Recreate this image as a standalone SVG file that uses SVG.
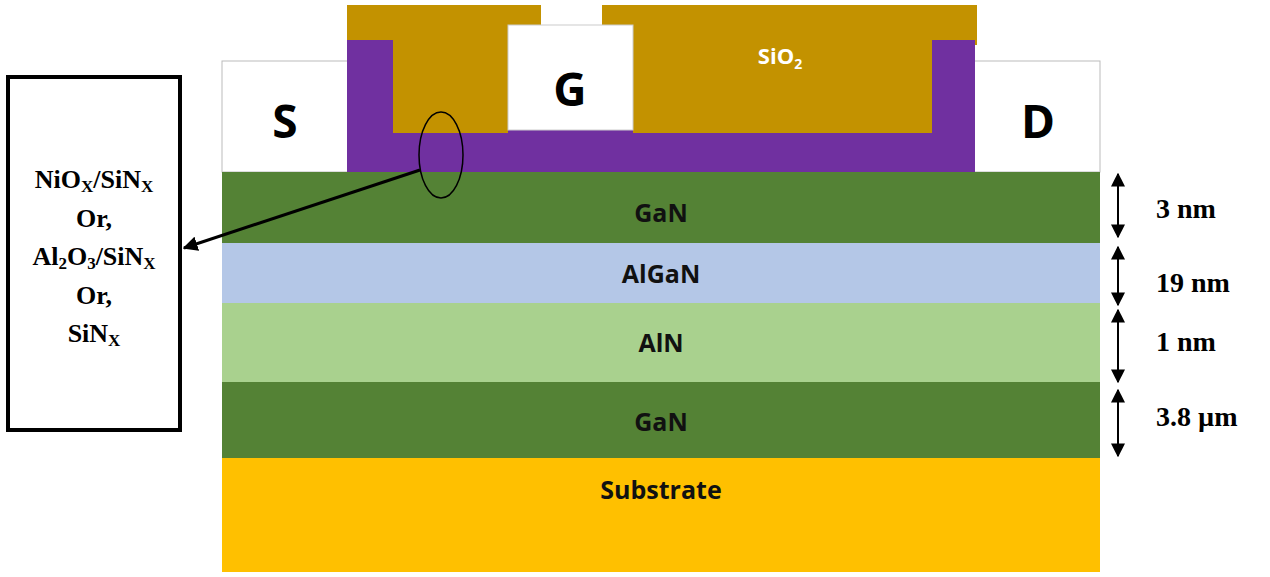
<svg xmlns="http://www.w3.org/2000/svg" width="1270" height="577" viewBox="0 0 1270 577">
<defs>
<marker id="ah" viewBox="0 0 10 10" refX="9" refY="5" markerWidth="5" markerHeight="5" orient="auto-start-reverse"><path d="M0,0 L10,5 L0,10 z" fill="#000"/></marker>
<marker id="ah2" viewBox="0 0 10 10" refX="9" refY="5" markerWidth="7" markerHeight="7" orient="auto-start-reverse"><path d="M0,0 L10,5 L0,10 z" fill="#000"/></marker>
</defs>
<style>
.lay{font-family:"Open Sans","DejaVu Sans",sans-serif;font-weight:bold;font-size:25px;text-anchor:middle;fill:#111}
.big{font-family:"Open Sans","DejaVu Sans",sans-serif;font-weight:bold;font-size:46px;text-anchor:middle;fill:#000}
.tm{font-family:"Liberation Serif",serif;font-weight:bold;font-size:26px;text-anchor:middle;fill:#000}
.dim{font-family:"Liberation Serif",serif;font-weight:bold;font-size:28px;fill:#000}
</style>
<rect width="1270" height="577" fill="#fff"/>
<g id="layers">
<rect x="222" y="61" width="878" height="111" fill="#fff" stroke="#bbb"/>
<rect x="222" y="172" width="878" height="71" fill="#548235"/>
<rect x="222" y="243" width="878" height="60" fill="#B4C7E7"/>
<rect x="222" y="303" width="878" height="79" fill="#A9D18E"/>
<rect x="222" y="382" width="878" height="76" fill="#548235"/>
<rect x="222" y="458" width="878" height="114" fill="#FFC000"/>
<text class="lay" x="661" y="222">GaN</text>
<text class="lay" x="661" y="283">AlGaN</text>
<text class="lay" x="661" y="352">AlN</text>
<text class="lay" x="661" y="431">GaN</text>
<text class="lay" x="661" y="499">Substrate</text>
</g>
<g id="gate-stack">
<rect x="347" y="5" width="194" height="40" fill="#C39200"/>
<rect x="602" y="5" width="375" height="40" fill="#C39200"/>
<rect x="347" y="40" width="628" height="132" fill="#7030A0"/>
<rect x="393" y="40" width="115" height="93" fill="#C39200"/>
<rect x="633" y="25" width="299" height="108" fill="#C39200"/>
<rect x="508" y="25" width="125" height="105" fill="#fff" stroke="#ccc"/>
<text class="big" x="570" y="106">G</text>
<text x="780" y="64" font-family="Open Sans, DejaVu Sans, sans-serif" font-weight="bold" font-size="22" fill="#fff" text-anchor="middle">SiO<tspan font-size="14" dy="5">2</tspan></text>
</g>
<g id="S"><text class="big" x="285" y="138">S</text></g>
<g id="D"><text class="big" x="1038" y="138">D</text></g>
<g id="note">
<rect x="8" y="77" width="172" height="353" fill="#fff" stroke="#000" stroke-width="4"/>
<text class="tm" x="94" y="188">NiO<tspan font-size="17" dy="4">X</tspan><tspan dy="-4">/SiN</tspan><tspan font-size="17" dy="4">X</tspan></text>
<text class="tm" x="94" y="227">Or,</text>
<text class="tm" x="94" y="265">Al<tspan font-size="17" dy="4">2</tspan><tspan dy="-4">O</tspan><tspan font-size="17" dy="4">3</tspan><tspan dy="-4">/SiN</tspan><tspan font-size="17" dy="4">X</tspan></text>
<text class="tm" x="94" y="304">Or,</text>
<text class="tm" x="94" y="342">SiN<tspan font-size="17" dy="4">X</tspan></text>
</g>
<g id="connectors">
<ellipse cx="441" cy="155" rx="22" ry="43" fill="none" stroke="#000" stroke-width="1.5"/>
<line x1="420" y1="170" x2="184" y2="248" stroke="#000" stroke-width="3" marker-end="url(#ah)"/>
<line x1="1118" y1="174" x2="1118" y2="237" stroke="#000" stroke-width="2" marker-start="url(#ah2)" marker-end="url(#ah2)"/>
<line x1="1118" y1="247" x2="1118" y2="305" stroke="#000" stroke-width="2" marker-start="url(#ah2)" marker-end="url(#ah2)"/>
<line x1="1118" y1="310" x2="1118" y2="382" stroke="#000" stroke-width="2" marker-start="url(#ah2)" marker-end="url(#ah2)"/>
<line x1="1118" y1="390" x2="1118" y2="456" stroke="#000" stroke-width="2" marker-start="url(#ah2)" marker-end="url(#ah2)"/>
</g>
<g id="dims">
<text class="dim" x="1156" y="218">3 nm</text>
<text class="dim" x="1156" y="292">19 nm</text>
<text class="dim" x="1156" y="351">1 nm</text>
<text class="dim" x="1156" y="426">3.8 µm</text>
</g>
</svg>
